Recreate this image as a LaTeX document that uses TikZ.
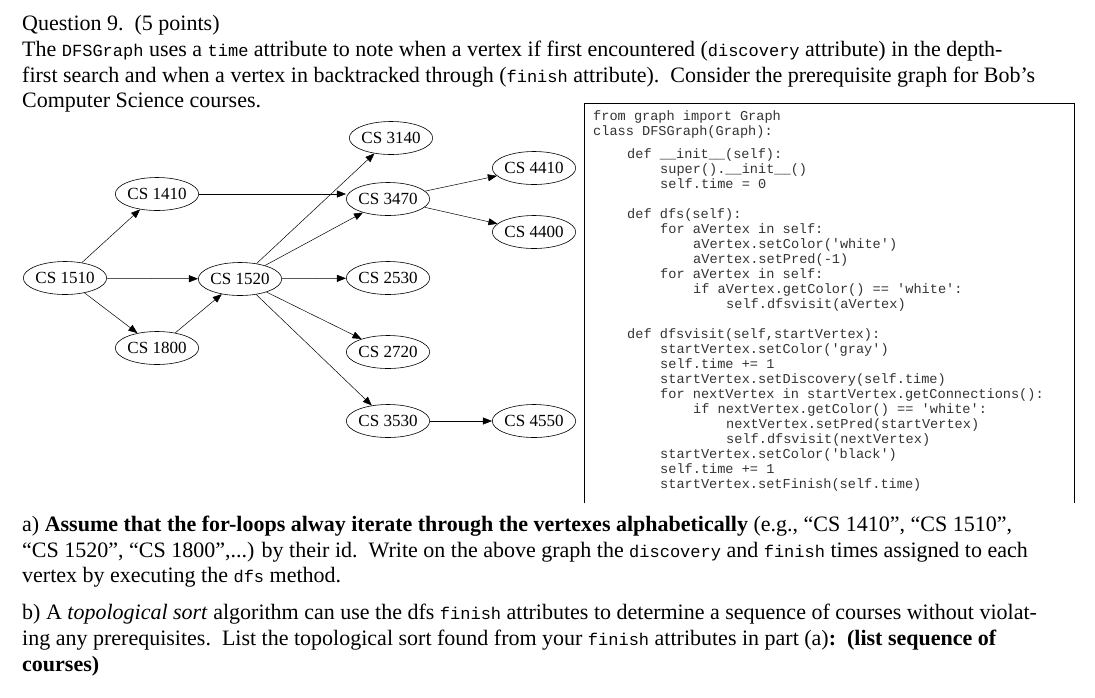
\documentclass[tikz,border=0pt]{standalone}
\usepackage{fontspec}
\setmainfont{Liberation Serif}
\setmonofont{Liberation Mono}
\usetikzlibrary{shapes.geometric,arrows.meta}
\newcommand{\ic}[1]{{\fontsize{17}{17}\selectfont\ttfamily #1}}
\begin{document}
\begin{tikzpicture}[x=1pt,y=-1pt,
  vx/.style={ellipse,draw,line width=0.6pt,minimum width=74pt,minimum height=33pt,inner sep=0pt,font=\fontsize{17}{17}\selectfont},
  ed/.style={-{Triangle[length=9pt,width=7pt]},line width=0.5pt},
  txt/.style={anchor=base west,inner sep=0pt,font=\fontsize{22}{22}\selectfont},
  code/.style={anchor=base west,inner sep=0pt,font=\fontsize{13.6}{13.6}\selectfont\ttfamily,text=black!80}]
\useasboundingbox (0,0) rectangle (1095,697);
\fill[white] (0,0) rectangle (1095,697);
% text
\node[txt] (t0) at (22,30) {Question 9.\ \ (5 points)};
\node[txt] (t1) at (22,56) {The \ic{DFSGraph} uses a \ic{time} attribute to note when a vertex if first encountered (\ic{discovery} attribute) in the depth-};
\node[txt] (t2) at (22,82) {first search and when a vertex in backtracked through (\ic{finish} attribute).\ \ Consider the prerequisite graph for Bob’s};
\node[txt] (t3) at (22,107) {Computer Science courses.};
\node[txt] (a1) at (22,531) {a) \textbf{Assume that the for-loops alway iterate through the vertexes alphabetically} (e.g., “CS 1410”, “CS 1510”,};
\node[txt] (a2) at (22,557) {“CS 1520”, “CS 1800”,...) by their id.\ \ Write on the above graph the \ic{discovery} and \ic{finish} times assigned to each};
\node[txt] (a3) at (22,582) {vertex by executing the \ic{dfs} method.};
\node[txt] (b1) at (22,619) {b) A \textit{topological sort} algorithm can use the dfs \ic{finish} attributes to determine a sequence of courses without violat-};
\node[txt] (b2) at (22,645) {ing any prerequisites.\ \ List the topological sort found from your \ic{finish} attributes in part (a)\textbf{:\ \ (list sequence of}};
\node[txt] (b3) at (22,671) {\textbf{courses)}};
% code box
\draw[line width=0.8pt] (584,503) -- (584,103) -- (1074,103) -- (1074,503);
\node[code] (c1) at (593,120) {from graph import Graph};
\node[code] (c2) at (593,135) {class DFSGraph(Graph):};
\node[code] (c3) at (627,158) {def \_\_init\_\_(self):};
\node[code] (c4) at (660,173) {super().\_\_init\_\_()};
\node[code] (c5) at (660,188) {self.time = 0};
\node[code] (c6) at (627,218) {def dfs(self):};
\node[code] (c7) at (660,233) {for aVertex in self:};
\node[code] (c8) at (693,248) {aVertex.setColor('white')};
\node[code] (c9) at (693,263) {aVertex.setPred(-1)};
\node[code] (c10) at (660,278) {for aVertex in self:};
\node[code] (c11) at (693,293) {if aVertex.getColor() == 'white':};
\node[code] (c12) at (726,308) {self.dfsvisit(aVertex)};
\node[code] (c13) at (627,338) {def dfsvisit(self,startVertex):};
\node[code] (c14) at (660,353) {startVertex.setColor('gray')};
\node[code] (c15) at (660,368) {self.time += 1};
\node[code] (c16) at (660,383) {startVertex.setDiscovery(self.time)};
\node[code] (c17) at (660,398) {for nextVertex in startVertex.getConnections():};
\node[code] (c18) at (693,413) {if nextVertex.getColor() == 'white':};
\node[code] (c19) at (726,428) {nextVertex.setPred(startVertex)};
\node[code] (c20) at (726,443) {self.dfsvisit(nextVertex)};
\node[code] (c21) at (660,458) {startVertex.setColor('black')};
\node[code] (c22) at (660,473) {self.time += 1};
\node[code] (c23) at (660,488) {startVertex.setFinish(self.time)};
% graph
\node[vx] (v1510) at (65,278) {CS 1510};
\node[vx] (v1410) at (157,194) {CS 1410};
\node[vx] (v1800) at (157,348) {CS 1800};
\node[vx] (v1520) at (240,279) {CS 1520};
\node[vx] (v3140) at (391,138) {CS 3140};
\node[vx] (v3470) at (388,199) {CS 3470};
\node[vx] (v2530) at (388,278) {CS 2530};
\node[vx] (v2720) at (388,352) {CS 2720};
\node[vx] (v3530) at (388,421) {CS 3530};
\node[vx] (v4410) at (534,168) {CS 4410};
\node[vx] (v4400) at (534,232) {CS 4400};
\node[vx] (v4550) at (534,421) {CS 4550};
\draw[ed] (v1510) -- (v1410);
\draw[ed] (v1510) -- (v1520);
\draw[ed] (v1510) -- (v1800);
\draw[ed] (v1800) -- (v1520);
\draw[ed] (v1410.east) -- (v3470.west |- v1410.east);
\draw[ed] (v1520) -- (v3140);
\draw[ed] (v1520) -- (v3470);
\draw[ed] (v1520) -- (v2530);
\draw[ed] (v1520) -- (v2720);
\draw[ed] (v1520) -- (v3530);
\draw[ed] (v3470) -- (v4410);
\draw[ed] (v3470) -- (v4400);
\draw[ed] (v3530) -- (v4550);
\end{tikzpicture}
\end{document}
